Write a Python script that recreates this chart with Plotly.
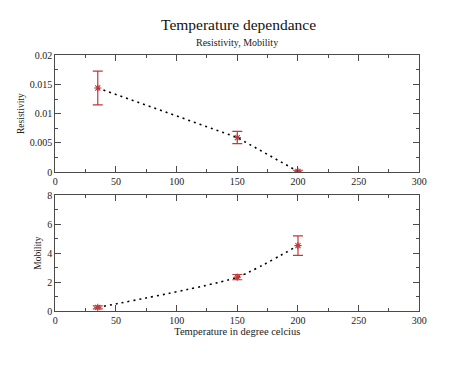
import plotly.graph_objects as go

# Data
temperature = [35, 150, 200]
resistivity = [0.0144, 0.0059, 0.0001]
resistivity_err = [0.0029, 0.00105, 0.0002]
mobility = [0.27, 2.35, 4.52]
mobility_err = [0.1, 0.18, 0.67]

title_text = "Temperature dependance"
subtitle_text = "Resistivity, Mobility"

W, H = 466, 358
OFF = 8  # page body margin
FONT = "Liberation Serif"
RED = "#c0393b"
AX = "#4a4a4a"

def px_x(p):
    return (p - OFF) / W

def px_y(p):
    return 1 - (p - OFF) / H

fig = go.Figure()

DOT = "2px,4px"

fig.add_trace(go.Scatter(
    x=temperature, y=resistivity, mode="lines", xaxis="x", yaxis="y",
    line=dict(color="black", dash=DOT, width=1.6), showlegend=False, hoverinfo="skip"))
fig.add_trace(go.Scatter(
    x=temperature, y=resistivity, mode="markers", xaxis="x", yaxis="y",
    marker=dict(symbol="asterisk-open", size=6, color=RED, line=dict(color=RED, width=1.1)),
    error_y=dict(type="data", array=resistivity_err, color=RED, thickness=1.2, width=5),
    showlegend=False))

fig.add_trace(go.Scatter(
    x=temperature, y=mobility, mode="lines", xaxis="x2", yaxis="y2",
    line=dict(color="black", dash=DOT, width=1.6, shape="spline", smoothing=0.6),
    showlegend=False, hoverinfo="skip"))
fig.add_trace(go.Scatter(
    x=temperature, y=mobility, mode="markers", xaxis="x2", yaxis="y2",
    marker=dict(symbol="asterisk-open", size=6, color=RED, line=dict(color=RED, width=1.1)),
    error_y=dict(type="data", array=mobility_err, color=RED, thickness=1.2, width=5),
    showlegend=False))

axis_common = dict(
    showgrid=False, zeroline=False, showline=True, linecolor=AX, linewidth=1.2,
    mirror="ticks", ticks="inside", ticklen=6, tickcolor=AX, tickwidth=1,
    tickfont=dict(family=FONT, size=10, color="#222"), automargin=False,
)

xdom = [px_x(55.3), px_x(419.3)]
fig.update_layout(
    width=W, height=H,
    margin=dict(l=0, r=0, t=0, b=0),
    paper_bgcolor="white", plot_bgcolor="white",
    font=dict(family=FONT, color="#222"),
    xaxis=dict(domain=xdom, anchor="y", range=[0, 300], dtick=50,
               minor=dict(ticks="inside", dtick=25, ticklen=3, tickcolor=AX), **axis_common),
    yaxis=dict(domain=[px_y(172), px_y(55.3)], anchor="x", range=[0, 0.02], dtick=0.005,
               minor=dict(ticks="inside", dtick=0.0025, ticklen=3, tickcolor=AX),
               title=dict(text="Resistivity", font=dict(family=FONT, size=9.5), standoff=3),
               **axis_common),
    xaxis2=dict(domain=xdom, anchor="y2", range=[0, 300], dtick=50,
                minor=dict(ticks="inside", dtick=25, ticklen=3, tickcolor=AX),
                title=dict(text="Temperature in degree celcius", font=dict(family=FONT, size=10.5), standoff=2),
                **axis_common),
    yaxis2=dict(domain=[px_y(311.3), px_y(195)], anchor="x2", range=[0, 8], dtick=2,
                minor=dict(ticks="inside", dtick=1, ticklen=3, tickcolor=AX),
                title=dict(text="Mobility", font=dict(family=FONT, size=9.5), standoff=3),
                **axis_common),
    annotations=[
        dict(text=title_text, x=px_x(238), y=px_y(25), xref="paper", yref="paper",
             yanchor="middle", showarrow=False, font=dict(family=FONT, size=15.5, color="#111")),
        dict(text=subtitle_text, x=px_x(237), y=px_y(43), xref="paper", yref="paper",
             yanchor="middle", showarrow=False, font=dict(family=FONT, size=10, color="#222")),
    ],
)

fig.write_html("out.html")
